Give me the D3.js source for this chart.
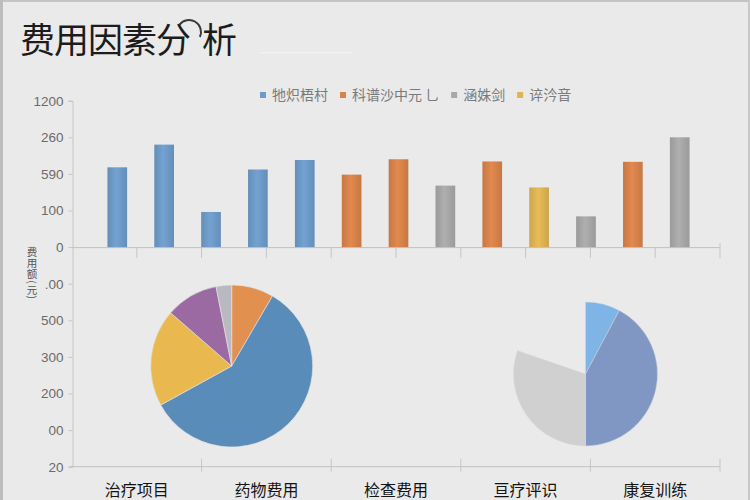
<!DOCTYPE html>
<html><head><meta charset="utf-8">
<script src="https://cdn.jsdelivr.net/npm/d3@7"></script>
<style>
html,body{margin:0;padding:0;background:#eaeaea;}
svg{display:block;}
text{font-family:"Noto Sans CJK SC","Noto Sans",sans-serif;}
.num{font-family:"Liberation Sans",Arial,sans-serif;}
.vert{writing-mode:vertical-rl;}
</style></head>
<body>
<svg id="chart" width="750" height="500"></svg>
<script>
// ---------- data ----------
const titleText = "费用因素分";
const titleTail = "析";
const legendLabels = ["牠炽梧村", "科谱沙中元 乚", "涵姝剑", "谇汵音"];
const seriesKeys = ["s1", "s2", "s3", "s4"];
const barKeys = ["b1","b2","b3","b4","b5","b6","b7","b8","b9","b10","b11","b12","b13"];
const barSeries = ["s1","s1","s1","s1","s1","s2","s2","s3","s2","s4","s3","s2","s3"];
const barValues = [218, 280, 96, 212, 238, 198, 240, 168, 234, 163, 84, 233, 300];
const yTickValues = [-600, -500, -400, -300, -200, -100, 0, 100, 200, 300, 400];
const yTickLabels = ["20", "00", "200", "300", "500", ".00", "0", "100", "590", "260", "1200"];
const yAxisTitle = "费用额(元)";
const categories = ["治疗项目", "药物费用", "检查费用", "亘疗评识", "康复训练"];
const subCategories = ["1a","1b","2a","2b","3a","3b","4a","4b","5a","5b"];
const pie1Labels = ["p1","p2","p3","p4","p5"];
const pie1Values = [8.4, 58.6, 19.4, 10.5, 3.1];
const pie2Labels = ["q1","q2","q3","gap"];
const pie2Values = [28, 152, 109, 71];

// ---------- styles ----------
const seriesColors = {s1:"#6e9bc9", s2:"#d9834b", s3:"#a8a8a8", s4:"#dfb453"};
const pie1Colors = ["#e2904f", "#5a8cba", "#e9b84f", "#9b6aa3", "#b9b9bf"];
const pie2Colors = ["#7fb4e6", "#8197c3", "#d0d0d0", "none"];

const svg = d3.select("#chart");

// frame
svg.append("rect").attr("x",0).attr("y",0).attr("width",750).attr("height",500).attr("fill","#eaeaea");
svg.append("line").attr("x1",0).attr("x2",750).attr("y1",1).attr("y2",1).attr("stroke","#c4c4c4").attr("stroke-width",2);
svg.append("line").attr("x1",1.5).attr("x2",1.5).attr("y1",0).attr("y2",500).attr("stroke","#bdbdbd").attr("stroke-width",3);
svg.append("line").attr("x1",749).attr("x2",749).attr("y1",0).attr("y2",500).attr("stroke","#c8c8c8").attr("stroke-width",2);

// title
const title = svg.append("text").attr("x",20).attr("y",52.5)
  .attr("font-size",35).attr("letter-spacing",-1).attr("fill","#1c1c1c");
title.append("tspan").text(titleText);
title.append("tspan").attr("dx",12).text(titleTail);
svg.append("path")
  .attr("transform","translate(189,32)")
  .attr("d", d3.arc()({innerRadius:11, outerRadius:13, startAngle:-0.9, endAngle:2.0}))
  .attr("fill","#3a3a3a");
svg.append("line").attr("x1",260).attr("x2",352).attr("y1",52.7).attr("y2",52.7)
  .attr("stroke","#f4f4f4").attr("stroke-width",1);

// gradients for bars
const defs = svg.append("defs");
Object.entries(seriesColors).forEach(([k,c])=>{
  const g = defs.append("linearGradient").attr("id","g_"+k).attr("x1","0").attr("x2","1").attr("y1","0").attr("y2","0");
  const dark = d3.color(c).darker(0.25), light = d3.color(c).brighter(0.12);
  g.append("stop").attr("offset","0%").attr("stop-color",dark);
  g.append("stop").attr("offset","45%").attr("stop-color",light);
  g.append("stop").attr("offset","100%").attr("stop-color",dark);
});

// scales
const y = d3.scaleLinear().domain([-600, 400]).range([466.7, 100.7]);
const xBar = d3.scaleBand().domain(barKeys).range([84, 713]).paddingInner(0.58).paddingOuter(0.5);
const xSub = d3.scaleBand().domain(subCategories).range([72, 720]);
const xCat = d3.scaleBand().domain(categories).range([72, 720]);

// y axis
const yAxis = d3.axisLeft(y).tickValues(yTickValues)
  .tickFormat((d,i)=>yTickLabels[i]).tickSize(4).tickPadding(5);
const ya = svg.append("g").attr("transform","translate(72.5,0)").call(yAxis);
ya.select(".domain").attr("stroke","#c6c6c6");
ya.selectAll(".tick line").attr("stroke","#c6c6c6");
ya.selectAll(".tick text").attr("class","num").attr("font-size",13.5).attr("fill","#6a6a6a");

// y axis title (vertical, single text)
svg.append("text").attr("class","vert").attr("x",32).attr("y",247)
  .attr("font-size",10.5).attr("letter-spacing",0.6).attr("fill","#555").text(yAxisTitle);

// upper x axis
const y0 = y(0);
svg.append("line").attr("x1",72).attr("x2",720).attr("y1",y0+0.5).attr("y2",y0+0.5).attr("stroke","#c2c2c2");
svg.selectAll(".subtick").data(subCategories).enter().append("line")
  .attr("x1",d=>xSub(d)+xSub.bandwidth()).attr("x2",d=>xSub(d)+xSub.bandwidth())
  .attr("y1",(d,i)=>i===subCategories.length-1? y0-4 : y0).attr("y2",y0+11)
  .attr("stroke","#c6c6c6");

// bars
svg.selectAll(".bar").data(barKeys).enter().append("rect")
  .attr("x",d=>xBar(d)).attr("width",xBar.bandwidth())
  .attr("y",(d,i)=>y(barValues[i])).attr("height",(d,i)=>y(0)-y(barValues[i]))
  .attr("fill",(d,i)=>"url(#g_"+barSeries[i]+")");

// legend
const leg = svg.append("g");
let lx = 260;
legendLabels.forEach((lab,i)=>{
  leg.append("rect").attr("x",lx).attr("y",92).attr("width",6).attr("height",6).attr("fill",seriesColors[seriesKeys[i]]);
  const t = leg.append("text").attr("x",lx+12).attr("y",100).attr("font-size",14).attr("fill","#7a7a7a").text(lab);
  lx += 12 + t.node().getComputedTextLength() + 12;
});

// lower x axis
const yb = y(-600);
svg.append("line").attr("x1",70).attr("x2",720).attr("y1",yb).attr("y2",yb).attr("stroke","#c2c2c2");
svg.selectAll(".cattick").data(categories).enter().append("line")
  .attr("x1",d=>xCat(d)+xCat.bandwidth()).attr("x2",d=>xCat(d)+xCat.bandwidth())
  .attr("y1",yb-8).attr("y2",yb+5).attr("stroke","#c6c6c6");
svg.selectAll(".catlab").data(categories).enter().append("text")
  .attr("x",d=>xCat(d)+xCat.bandwidth()/2).attr("y",496)
  .attr("text-anchor","middle").attr("font-size",16).attr("fill","#141414").text(d=>d);

// pie 1
const pie = d3.pie().sort(null).value(d=>d);
const arc1 = d3.arc().innerRadius(0).outerRadius(81);
svg.append("g").attr("transform","translate(231.7,366)")
  .selectAll("path").data(pie(pie1Values)).enter().append("path")
  .attr("d",arc1).attr("fill",(d,i)=>pie1Colors[i]).attr("stroke","#e6e6e6").attr("stroke-width",0.6);

// pie 2
const arc2 = d3.arc().innerRadius(0).outerRadius(72);
svg.append("g").attr("transform","translate(585.5,374)")
  .selectAll("path").data(pie(pie2Values).filter((d,i)=>pie2Labels[i]!=="gap")).enter().append("path")
  .attr("d",arc2).attr("fill",(d,i)=>pie2Colors[i]).attr("stroke","#dcdcdc").attr("stroke-width",0.4);
</script>
</body></html>
